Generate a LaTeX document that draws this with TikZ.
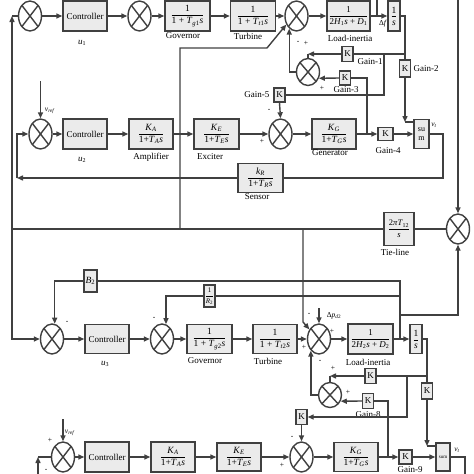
\documentclass[tikz,border=0pt]{standalone}
\usepackage{fontspec}
\setmainfont{Liberation Serif}
\usetikzlibrary{arrows.meta,shapes.geometric}
\definecolor{ln}{HTML}{404040}
\definecolor{bx}{HTML}{EBEBEB}
\tikzset{
 arr/.style={-{Triangle[length=6pt,width=5pt]}},
 blk/.style={draw=ln, fill=bx, inner sep=0pt, minimum width=44pt, minimum height=30pt, font=\fontsize{9.5}{11}\selectfont, text=black},
 ctlbox/.style={blk, font=\fontsize{9}{10}\selectfont},
 kbox/.style={blk, minimum width=11pt, minimum height=15pt, font=\fontsize{9}{10}\selectfont},
 sumc/.style={ellipse, draw=ln, fill=white, inner sep=0pt, minimum width=23pt, minimum height=30pt,
   path picture={\draw[ln, line width=1.4pt] (path picture bounding box.south west) -- (path picture bounding box.north east) (path picture bounding box.north west) -- (path picture bounding box.south east);}},
 lbl/.style={font=\fontsize{9}{10}\selectfont, inner sep=0pt, text=black},
 sg/.style={font=\fontsize{7.5}{8}\selectfont, inner sep=0pt, text=black},
}
\newcommand{\tf}[2]{$\displaystyle\frac{\hbox{#1}}{\hbox{#2}}$}
\newcommand{\vv}[2]{\textit{#1}\textsubscript{#2}}
\newcommand{\iv}[1]{\textit{#1}}
\begin{document}
\begin{tikzpicture}[x=1pt,y=-1pt,line width=1.4pt,color=ln]
\path[use as bounding box] (0,0) rectangle (474,474);
% ---------- row 1 ----------
\node[sumc] (c1) at (30,16) {};
\node[ctlbox] (ctl1) at (85,16) {Controller};
\node[sumc] (c2) at (139.5,16) {};
\node[blk,minimum width=45pt] (gov1) at (187.5,16) {\tf{1}{1 + \vv{T}{\iv{g}1}\iv{s}}};
\node[blk,minimum width=45pt] (tur1) at (253,16) {\tf{1}{1 + \vv{T}{\iv{t}1}\iv{s}}};
\node[sumc] (c3) at (296.5,16) {};
\node[blk,minimum width=43pt,font=\fontsize{9}{10}\selectfont] (load1) at (348.5,16) {\tf{1}{2\vv{H}{1}\iv{s} + \vv{D}{1}}};
\node[blk,minimum width=12pt] (int1) at (394,16) {\tf{1}{\iv{s}}};
\node[lbl] at (82,43) {\vv{u}{1}};
\node[lbl] at (183,36) {Governor};
\node[lbl] at (248,36) {Turbine};
\node[lbl] at (350,38) {Load-inertia};
\node[sg] at (383,24) {Δ\iv{f}};
\node[kbox] (g1) at (347.5,54) {K};
\node[lbl,anchor=west] at (357,62) {Gain-1};
\node[sumc,minimum height=27pt] (c4) at (308,72) {};
\node[kbox,minimum height=14pt] (g3) at (345,78) {K};
\node[lbl] at (346,90) {Gain-3};
\node[kbox,minimum height=17pt] (g2) at (405,68.5) {K};
\node[lbl,anchor=west] at (413,68.5) {Gain-2};
\node[kbox,minimum height=14pt] (g5) at (279.5,95) {K};
\node[lbl,anchor=east] at (270,95) {Gain-5};
\node[sg] at (298,42) {-};
\node[sg] at (306,43) {+};
\node[sg] at (322,88) {+};
% ---------- row 2 ----------
\node[sumc] (c6) at (40.5,134) {};
\node[ctlbox] (ctl2) at (85,134) {Controller};
\node[blk] (amp) at (151,134) {\tf{\vv{K}{\iv{A}}}{1+\vv{T}{\iv{A}}\iv{s}}};
\node[blk,minimum width=45pt] (exc) at (216.5,134) {\tf{\vv{K}{\iv{E}}}{1+\vv{T}{\iv{E}}\iv{s}}};
\node[sumc] (c5) at (280.5,134) {};
\node[blk] (gen) at (334,134) {\tf{\vv{K}{\iv{G}}}{1+\vv{T}{\iv{G}}\iv{s}}};
\node[kbox,minimum width=15pt,minimum height=13pt] (g4) at (385.5,134) {K};
\node[blk,minimum width=15pt,minimum height=29pt,align=center,font=\fontsize{8}{8.5}\selectfont] (sum1) at (421.5,134) {su\\m};
\node[blk,minimum width=45pt,minimum height=29pt] (sens) at (260.5,178) {\tf{\vv{k}{\iv{R}}}{1+\vv{T}{\iv{R}}\iv{s}}};
\node[lbl] at (82,160) {\vv{u}{2}};
\node[lbl] at (151,157) {Amplifier};
\node[lbl] at (210,157) {Exciter};
\node[lbl] at (330,153) {Generator};
\node[lbl] at (388,151) {Gain-4};
\node[lbl] at (257,197) {Sensor};
\node[sg] at (434,125) {\vv{v}{\iv{t}}};
\node[sg] at (50,111) {\vv{v}{\iv{ref}}};
\node[sg] at (269,110) {-};
\node[sg] at (262,141) {+};
% ---------- tie line ----------
\node[blk,minimum width=30pt,minimum height=33pt,font=\fontsize{8.5}{9}\selectfont] (tie) at (399,229) {\tf{2\iv{π}\vv{T}{12}}{\iv{s}}};
\node[lbl] at (395,252) {Tie-line};
\node[sumc] (c7) at (458,229) {};
% ---------- row 3 ----------
\node[blk,minimum width=13pt,minimum height=22pt] (b2) at (90.5,281) {\vv{B}{2}};
\node[blk,minimum width=11pt,minimum height=22pt,font=\fontsize{7}{8}\selectfont] (r2) at (209.5,296) {\tf{1}{\vv{R}{2}}};
\node[sumc] (c8) at (52,339) {};
\node[ctlbox,minimum height=29pt] (ctl3) at (107,339) {Controller};
\node[sumc] (c9) at (162,339) {};
\node[blk,minimum width=45pt,minimum height=29pt] (gov2) at (209.5,339) {\tf{1}{1 + \vv{T}{\iv{g}2}\iv{s}}};
\node[blk,minimum height=29pt] (tur2) at (275,339) {\tf{1}{1 + \vv{T}{\iv{t}2}\iv{s}}};
\node[sumc] (c10) at (319,339) {};
\node[blk,minimum width=45pt,font=\fontsize{9}{10}\selectfont] (load2) at (370.5,339) {\tf{1}{2\vv{H}{2}\iv{s} + \vv{D}{2}}};
\node[blk,minimum width=12pt,minimum height=29pt] (int2) at (416,339) {\tf{1}{\iv{s}}};
\node[lbl] at (105,364) {\vv{u}{3}};
\node[lbl] at (205,361) {Governor};
\node[lbl] at (268,361) {Turbine};
\node[lbl] at (368,362) {Load-inertia};
\node[sg] at (334,316) {Δ\vv{p}{\iv{d}2}};
\node[sg] at (67,322) {-};
\node[sg] at (154,318) {-};
\node[sg] at (309,314) {-};
\node[sg] at (332,331) {+};
\node[sg] at (304,347) {+};
\node[sg] at (320,361) {-};
\node[kbox] (g7) at (370.5,376) {K};
\node[sumc,minimum height=25pt] (c11) at (330,395) {};
\node[kbox] (g8) at (368,401) {K};
\node[lbl] at (368,415) {Gain-8};
\node[kbox,minimum height=16pt] (g6) at (427,391) {K};
\node[kbox] (g10) at (301.5,417) {K};
\node[sg] at (333,368) {+};
\node[sg] at (348,392) {+};
% ---------- row 4 ----------
\node[sumc] (c12) at (63,457) {};
\node[ctlbox] (ctl4) at (107,457) {Controller};
\node[blk] (amp2) at (173,457) {\tf{\vv{K}{\iv{A}}}{1+\vv{T}{\iv{A}}\iv{s}}};
\node[blk,minimum height=28pt] (exc2) at (239,457) {\tf{\vv{K}{\iv{E}}}{1+\vv{T}{\iv{E}}\iv{s}}};
\node[sumc] (c13) at (301.5,457) {};
\node[blk,minimum height=29pt] (gen2) at (356,457) {\tf{\vv{K}{\iv{G}}}{1+\vv{T}{\iv{G}}\iv{s}}};
\node[kbox,minimum width=13pt,minimum height=14pt] (g9) at (405.5,457) {K};
\node[blk,minimum width=14pt,minimum height=28pt,font=\fontsize{5}{6}\selectfont] (sum2) at (443,457) {sum};
\node[lbl] at (410,470) {Gain-9};
\node[sg] at (70,433) {\vv{v}{\iv{ref}}};
\node[sg] at (50,440) {+};
\node[sg] at (46,470) {-};
\node[sg] at (457,450) {\vv{v}{\iv{t}}};
\node[sg] at (292,437) {-};
\node[sg] at (282,465) {+};
% ---------- coordinates ----------
\coordinate (jL) at (12,229);
\coordinate (cL1) at (12,16);
\coordinate (jA) at (405,16);
\coordinate (jB) at (405,54);
\coordinate (jC) at (384,54);
\coordinate (k1) at (308,54);
\coordinate (jG) at (367,134);
\coordinate (k2) at (405,122);
\coordinate (k3) at (443,134);
\coordinate (k4) at (17,178);
\coordinate (jT1) at (180,229);
\coordinate (k5) at (180,48);
\coordinate (k6) at (267,48);
\coordinate (jT2) at (303,229);
\coordinate (k7) at (303,322);
\coordinate (jD) at (400,339);
\coordinate (jD2) at (400,296);
\coordinate (jD3) at (400,315);
\coordinate (k8) at (427,339);
\coordinate (jE) at (427,376);
\coordinate (jF) at (407,376);
\coordinate (k9) at (330,376);
\coordinate (k10) at (427,446);
\coordinate (jH) at (388,457);
\coordinate (k11) at (38,457);
% ---------- connectors row 1 ----------
\draw[arr] (jL) -- (cL1);
\draw (cL1) -- (c1.west);
\draw[arr] (c1.east) -- (ctl1.west);
\draw[arr] (ctl1.east) -- (c2.west);
\draw[arr] (c2.east) -- (gov1.west);
\draw[arr] (gov1.east) -- (tur1.west);
\draw[arr] (tur1.east) -- (c3.west);
\draw[arr] (c3.east) -- (load1.west);
\draw[arr] (load1.east) -- (int1.west);
\draw (377,16) -- (377,0);
\draw (int1.east) -- (jA) -- (g2.north);
\draw (jB) -- (g1.east);
\draw[arr] (g1.west) -- (k1);
\draw (k1) -- (c4.north);
\draw (jC) |- (g5.east);
\draw[arr] (g5.south) -- (c5.north);
\draw[arr] (g3.west) -- (c4.-30);
\draw (g3.east) -| (jG);
\draw[arr] (c4.west) -| (c3.-120);
\draw[arr] (jT1) -- (k5) -- (k6) -- (c3.-140);
\draw[arr] (g2.south) -- (k2);
\draw (k2) -- (sum1.west |- k2);
\draw[arr] (458,0) -- (c7.north);
% ---------- connectors row 2 ----------
\draw[arr] ([yshift=37pt]c6.north) -- (c6.north);
\draw[arr] (c6.east) -- (ctl2.west);
\draw[arr] (ctl2.east) -- (amp.west);
\draw[arr] (amp.east) -- (exc.west);
\draw[arr] (exc.east) -- (c5.west);
\draw[arr] (c5.east) -- (gen.west);
\draw[arr] (gen.east) -- (g4.west);
\draw[arr] (g4.east) -- (sum1.west);
\draw (sum1.east) -- (k3) |- (sens.east);
\draw[arr] (sens.west) -- (k4);
\draw[arr] (k4) |- (c6.west);
% ---------- tie line ----------
\draw (c7.west) -- (tie.east);
\draw (tie.west) -- (jL);
\draw[arr] (jL) |- (c8.west);
\draw[arr] (jT2) -- (k7) -- (c10.135);
% ---------- connectors row 3 ----------
\draw (jD) |- (b2.east);
\draw (jD2) -- (r2.east);
\draw[arr] (jD3) -| (c7.south);
\draw[arr] (b2.west) -| (c8.80);
\draw[arr] (r2.west) -| (c9.75);
\draw[arr] (c8.east) -- (ctl3.west);
\draw[arr] (ctl3.east) -- (c9.west);
\draw[arr] (c9.east) -- (gov2.west);
\draw[arr] (gov2.east) -- (tur2.west);
\draw[arr] (tur2.east) -- (c10.west);
\draw[arr] (c10.east) -- (load2.west);
\draw[arr] (load2.east) -- (int2.west);
\draw[arr] ([yshift=15pt]c10.north) -- (c10.north);
\draw (int2.east) -- (k8) -- (g6.north);
\draw[arr] (g6.south) -- (k10);
\draw (k10) -- (sum2.west |- k10);
\draw (jE) -- (g7.east);
\draw[arr] (g7.west) -- (k9);
\draw (k9) -- (c11.north);
\draw[arr] (jF) |- (g10.east);
\draw[arr] (g10.south) -- (c13.north);
\draw[arr] (g8.west) -- (c11.-30);
\draw (g8.east) -| (jH);
\draw[arr] (c11.west) -| (c10.-125);
% ---------- connectors row 4 ----------
\draw[arr] ([yshift=22pt]c12.north) -- (c12.north);
\draw[arr] (38,474) -- (k11);
\draw (k11) -- (c12.west);
\draw[arr] (c12.east) -- (ctl4.west);
\draw[arr] (ctl4.east) -- (amp2.west);
\draw[arr] (amp2.east) -- (exc2.west);
\draw[arr] (exc2.east) -- (c13.west);
\draw[arr] (c13.east) -- (gen2.west);
\draw[arr] (gen2.east) -- (g9.west);
\draw[arr] (g9.east) -- (sum2.west);
\draw (sum2.east) -| (465,474);
\end{tikzpicture}
\end{document}
